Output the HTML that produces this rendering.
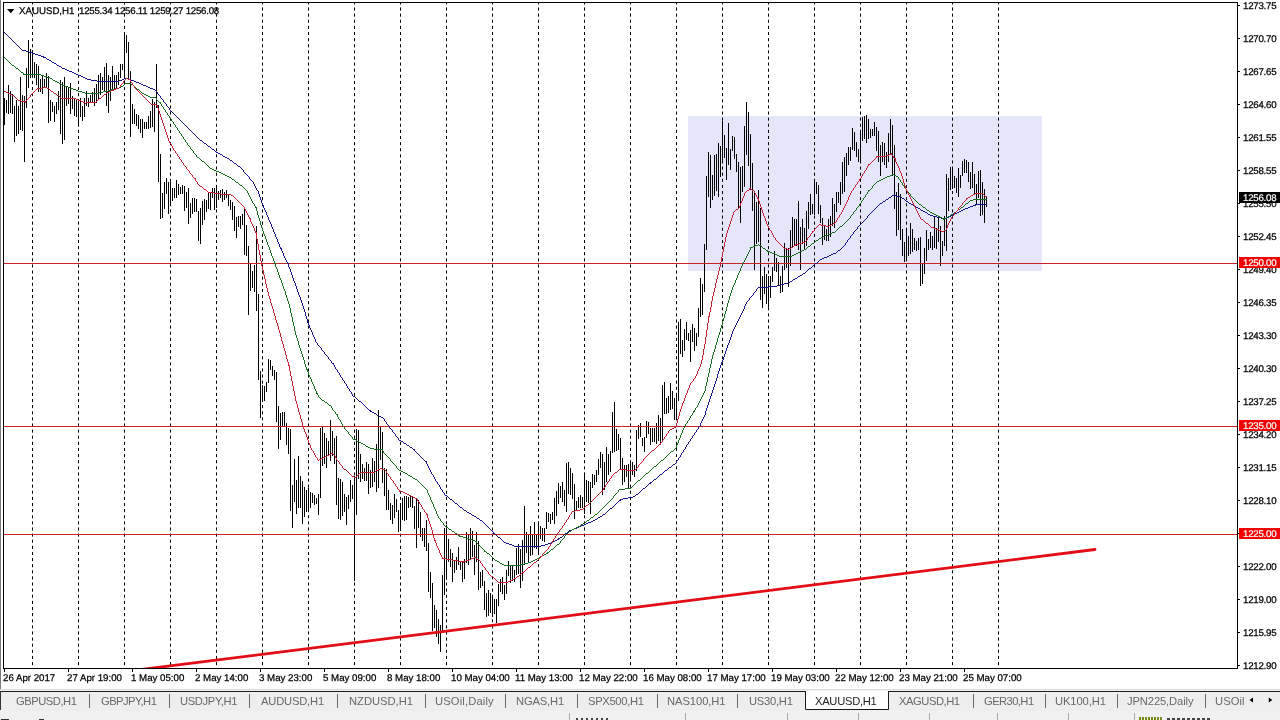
<!DOCTYPE html><html><head><meta charset="utf-8"><title>XAUUSD,H1</title>
<style>
html,body{margin:0;padding:0;}
.ax,.dt,.pl,.ttl{text-rendering:geometricPrecision;}
.ax,.dt,.ttl{-webkit-text-stroke:0.25px #000;}
.pl{-webkit-text-stroke:0.2px #fff;}
.ax,.dt,.pl,.ttl,.tab{will-change:transform;}
body{width:1280px;height:720px;overflow:hidden;background:#fff;position:relative;font-family:"Liberation Sans",sans-serif;color:#000;}
.ax{position:absolute;left:1243px;font-size:9.7px;letter-spacing:-0.24px;line-height:11px;height:11px;white-space:nowrap;}
.dt{position:absolute;top:673px;font-size:9.7px;line-height:11px;white-space:nowrap;}
.pl{position:absolute;left:1239px;width:41px;height:11px;font-size:9.7px;letter-spacing:-0.24px;line-height:11px;color:#fff;white-space:nowrap;}
.pl span{position:absolute;left:4px;top:1px;}
.ttl{position:absolute;top:6px;font-size:9.7px;line-height:11px;white-space:nowrap;}
.tab{position:absolute;top:693.6px;font-size:11.2px;line-height:15px;color:#686868;white-space:nowrap;letter-spacing:-0.4px;}
.sep{position:absolute;top:694px;width:1px;height:14px;background:#6a6a6a;}
</style></head><body>
<svg width="1280" height="720" viewBox="0 0 1280 720" style="position:absolute;left:0;top:0"><clipPath id="cc"><rect x="4" y="3" width="1233" height="665"/></clipPath><rect x="688" y="116" width="354" height="155" fill="#e6e6fa" shape-rendering="crispEdges"/><path d="M32.5 1.38V666M78.5 1.38V666M124.5 1.38V666M170.5 1.38V666M216.5 1.38V666M262.5 1.38V666M308.5 1.38V666M354.5 1.38V666M400.5 1.38V666M446.5 1.38V666M492.5 1.38V666M538.5 1.38V666M584.5 1.38V666M630.5 1.38V666M676.5 1.38V666M722.5 1.38V666M768.5 1.38V666M814.5 1.38V666M860.5 1.38V666M906.5 1.38V666M952.5 1.38V666M998.5 1.38V666" stroke="#000" stroke-width="1" stroke-dasharray="3.1 3.017" fill="none" clip-path="url(#cc)"/><path d="M4.5 98V125M6.5 100V113M8.5 85V114M10.5 91V113M12.5 94V114M14.5 106V142M16.5 100V136M18.5 106V134M20.5 77V130M22.5 95V131M24.5 96V162M26.5 68V108M28.5 40V88M30.5 49V78M32.5 50V75M34.5 62V78M36.5 64V85M38.5 66V92M40.5 79V92M42.5 75V94M44.5 79V88M46.5 73V88M48.5 76V123M50.5 100V121M52.5 102V112M54.5 106V122M56.5 102V114M58.5 91V110M60.5 80V134M62.5 82V144M64.5 77V140M66.5 86V106M68.5 88V104M70.5 83V114M72.5 96V109M74.5 98V116M76.5 100V117M78.5 102V124M80.5 98V117M82.5 106V121M84.5 98V117M86.5 91V106M88.5 98V107M90.5 95V102M92.5 92V102M94.5 88V106M96.5 84V103M98.5 75V99M100.5 73V95M102.5 77V90M104.5 67V92M106.5 63V106M108.5 75V113M110.5 77V101M112.5 66V90M114.5 75V90M116.5 75V88M118.5 72V85M120.5 64V78M122.5 64V70M124.5 32V79M126.5 35V53M128.5 42V80M130.5 71V137M132.5 104V124M134.5 109V124M136.5 114V126M138.5 115V129M140.5 119V133M142.5 119V138M144.5 122V129M146.5 122V129M148.5 116V129M150.5 111V128M152.5 99V127M154.5 102V132M156.5 64V108M158.5 105V182M160.5 154V219M162.5 193V218M164.5 182V209M166.5 178V194M168.5 182V214M170.5 182V205M172.5 188V201M174.5 188V198M176.5 180V198M178.5 184V195M180.5 187V194M182.5 185V194M184.5 186V211M186.5 192V208M188.5 188V224M190.5 203V218M192.5 198V214M194.5 198V212M196.5 199V212M198.5 211V241M200.5 208V244M202.5 201V225M204.5 199V220M206.5 200V212M208.5 192V209M210.5 193V210M212.5 188V198M214.5 188V210M216.5 188V208M218.5 191V200M220.5 190V198M222.5 189V202M224.5 192V200M226.5 190V198M228.5 195V206M230.5 200V210M232.5 202V220M234.5 206V231M236.5 217V238M238.5 216V227M240.5 216V229M242.5 214V225M244.5 207V255M246.5 225V256M248.5 246V315M250.5 264V291M252.5 271V288M254.5 265V292M256.5 226V311M258.5 294V380M260.5 371V418M262.5 385V401M264.5 386V401M266.5 382V392M268.5 359V383M270.5 360V370M272.5 366V376M274.5 370V380M276.5 372V422M278.5 406V449M280.5 413V440M282.5 412V426M284.5 412V426M286.5 423V445M288.5 428V454M290.5 429V511M292.5 485V528M294.5 459V502M296.5 480V514M298.5 456V508M300.5 476V508M302.5 481V524M304.5 487V517M306.5 490V512M308.5 488V511M310.5 492V508M312.5 493V503M314.5 495V505M316.5 498V504M318.5 494V515M320.5 428V498M322.5 426V466M324.5 433V464M326.5 438V468M328.5 441V456M330.5 420V461M332.5 431V456M334.5 438V464M336.5 436V505M338.5 478V519M340.5 479V520M342.5 482V516M344.5 494V512M346.5 497V525M348.5 495V509M350.5 480V502M352.5 485V499M354.5 476V581M356.5 429V515M358.5 430V479M360.5 454V482M362.5 464V479M364.5 468V481M366.5 462V481M368.5 464V494M370.5 470V488M372.5 458V487M374.5 461V482M376.5 444V492M378.5 410V488M380.5 426V460M382.5 432V483M384.5 468V496M386.5 469V510M388.5 490V510M390.5 503V520M392.5 505V524M394.5 494V518M396.5 499V512M398.5 510V532M400.5 506V531M402.5 498V520M404.5 496V521M406.5 496V520M408.5 497V508M410.5 496V507M412.5 497V508M414.5 506V529M416.5 498V548M418.5 500V528M420.5 512V537M422.5 528V541M424.5 528V547M426.5 520V551M428.5 543V592M430.5 572V598M432.5 583V631M434.5 605V628M436.5 610V637M438.5 619V644M440.5 625V652M442.5 575V632M444.5 528V595M446.5 525V580M448.5 539V562M450.5 549V567M452.5 553V582M454.5 560V573M456.5 557V570M458.5 547V565M460.5 561V570M462.5 562V582M464.5 559V579M466.5 532V563M468.5 535V565M470.5 528V559M472.5 531V557M474.5 545V575M476.5 532V562M478.5 541V590M480.5 572V588M482.5 570V586M484.5 581V610M486.5 593V617M488.5 590V616M490.5 593V613M492.5 596V617M494.5 599V614M496.5 599V623M498.5 584V606M500.5 579V592M502.5 577V594M504.5 585V600M506.5 570V594M508.5 561V576M510.5 566V583M512.5 566V581M514.5 570V582M516.5 548V575M518.5 544V574M520.5 549V588M522.5 540V581M524.5 506V565M526.5 532V553M528.5 534V562M530.5 526V556M532.5 534V555M534.5 522V548M536.5 535V549M538.5 524V555M540.5 526V539M542.5 528V541M544.5 528V542M546.5 512V529M548.5 513V522M550.5 514V524M552.5 512V520M554.5 498V524M556.5 491V516M558.5 483V504M560.5 486V498M562.5 482V502M564.5 490V506M566.5 463V512M568.5 462V494M570.5 468V495M572.5 473V499M574.5 484V519M576.5 501V510M578.5 497V508M580.5 495V508M582.5 497V508M584.5 475V514M586.5 480V502M588.5 481V503M590.5 482V514M592.5 474V488M594.5 475V485M596.5 470V482M598.5 459V475M600.5 452V468M602.5 454V495M604.5 462V490M606.5 447V482M608.5 454V475M610.5 451V472M612.5 412V453M614.5 402V452M616.5 429V451M618.5 434V450M620.5 438V469M622.5 458V485M624.5 465V482M626.5 465V477M628.5 464V489M630.5 462V479M632.5 462V475M634.5 465V477M636.5 430V471M638.5 425V439M640.5 423V437M642.5 438V446M644.5 437V452M646.5 421V438M648.5 422V434M650.5 428V445M652.5 428V442M654.5 428V442M656.5 423V444M658.5 415V441M660.5 418V444M662.5 385V440M664.5 382V414M666.5 398V414M668.5 396V413M670.5 383V410M672.5 391V409M674.5 398V420M676.5 393V419M678.5 322V401M680.5 319V354M682.5 340V357M684.5 329V351M686.5 322V340M688.5 333V341M690.5 330V362M692.5 324V342M694.5 328V351M696.5 333V346M698.5 308V337M700.5 278V317M702.5 284V315M704.5 244V292M706.5 176V250M708.5 152V197M710.5 155V208M712.5 175V200M714.5 155V196M716.5 154V191M718.5 143V197M720.5 146V177M722.5 121V161M724.5 135V158M726.5 148V180M728.5 123V165M730.5 149V170M732.5 136V151M734.5 137V159M736.5 154V172M738.5 162V208M740.5 167V223M742.5 166V192M744.5 126V187M746.5 102V155M748.5 112V166M750.5 134V190M752.5 163V211M754.5 191V270M756.5 202V244M758.5 190V242M760.5 208V300M762.5 276V308M764.5 267V294M766.5 274V304M768.5 276V307M770.5 276V298M772.5 267V282M774.5 251V271M776.5 258V272M778.5 262V286M780.5 276V293M782.5 266V292M784.5 243V270M786.5 248V268M788.5 248V287M790.5 230V266M792.5 217V248M794.5 219V246M796.5 219V246M798.5 201V250M800.5 227V270M802.5 219V244M804.5 228V250M806.5 211V246M808.5 202V229M810.5 194V215M812.5 204V214M814.5 181V215M816.5 182V194M818.5 185V214M820.5 205V223M822.5 218V245M824.5 226V240M826.5 229V241M828.5 219V241M830.5 216V237M832.5 198V226M834.5 204V228M836.5 192V212M838.5 192V203M840.5 182V205M842.5 162V194M844.5 157V192M846.5 153V176M848.5 147V165M850.5 147V161M852.5 128V150M854.5 132V151M856.5 142V157M858.5 149V162M860.5 133V162M862.5 117V141M864.5 116V139M866.5 115V143M868.5 119V139M870.5 129V138M872.5 129V136M874.5 122V136M876.5 127V151M878.5 131V162M880.5 145V176M882.5 142V162M884.5 143V165M886.5 152V168M888.5 133V162M890.5 119V155M892.5 125V176M894.5 145V209M896.5 192V236M898.5 183V230M900.5 194V240M902.5 229V256M904.5 242V262M906.5 230V259M908.5 236V256M910.5 223V254M912.5 229V252M914.5 238V250M916.5 241V251M918.5 238V250M920.5 237V286M922.5 264V284M924.5 248V274M926.5 230V261M928.5 239V250M930.5 232V248M932.5 236V250M934.5 217V248M936.5 228V249M938.5 218V242M940.5 226V266M942.5 241V256M944.5 216V246M946.5 174V251M948.5 178V211M950.5 167V190M952.5 169V189M954.5 176V188M956.5 178V193M958.5 168V197M960.5 175V188M962.5 161V176M964.5 159V173M966.5 160V173M968.5 162V182M970.5 172V189M972.5 162V188M974.5 174V194M976.5 184V204M978.5 171V198M980.5 170V216M982.5 182V215M984.5 189V223M986.5 197V207" stroke="#000" stroke-width="1" fill="none" shape-rendering="crispEdges"/><rect x="4" y="263" width="1233" height="1" fill="#c62424" shape-rendering="crispEdges"/><rect x="4" y="426" width="1233" height="1" fill="#c62424" shape-rendering="crispEdges"/><rect x="4" y="534" width="1233" height="1" fill="#c62424" shape-rendering="crispEdges"/><path d="M4.5 32V33M5.5 33V34M6.5 34V35M7.5 35V36M8.5 36V37M9.5 37V38M10.5 38V39M11.5 39V40M12.5 40V41M13.5 41V42M14.5 42V43M15.5 43V44M16.5 44V45M17.5 45V46M18.5 46V47M19.5 47V48M20.5 48V49M21.5 49V50M22.5 50V51M23.5 50V51M24.5 50V51M25.5 50V51M26.5 51V52M27.5 51V52M28.5 51V52M29.5 52V53M30.5 52V53M31.5 52V53M32.5 53V54M33.5 53V54M34.5 53V54M35.5 54V55M36.5 54V55M37.5 54V55M38.5 55V56M39.5 55V56M40.5 55V56M41.5 56V57M42.5 56V57M43.5 56V58M44.5 57V58M45.5 57V58M46.5 58V59M47.5 59V60M48.5 59V60M49.5 60V61M50.5 60V61M51.5 61V62M52.5 62V63M53.5 62V63M54.5 63V64M55.5 63V64M56.5 64V65M57.5 65V66M58.5 65V66M59.5 66V67M60.5 66V67M61.5 67V68M62.5 68V69M63.5 68V69M64.5 68V69M65.5 69V70M66.5 69V70M67.5 70V71M68.5 70V71M69.5 71V72M70.5 71V72M71.5 71V72M72.5 72V73M73.5 72V73M74.5 73V74M75.5 73V74M76.5 74V75M77.5 74V75M78.5 75V76M79.5 75V76M80.5 75V76M81.5 76V77M82.5 76V77M83.5 77V78M84.5 77V78M85.5 78V79M86.5 78V79M87.5 79V80M88.5 79V80M89.5 79V80M90.5 79V80M91.5 80V81M92.5 80V81M93.5 80V81M94.5 80V81M95.5 80V81M96.5 80V81M97.5 81V82M98.5 81V82M99.5 81V82M100.5 81V82M101.5 81V82M102.5 81V82M103.5 81V82M104.5 81V82M105.5 81V82M106.5 81V82M107.5 81V82M108.5 81V82M109.5 81V82M110.5 81V82M111.5 81V82M112.5 81V82M113.5 81V82M114.5 81V82M115.5 81V82M116.5 81V82M117.5 81V82M118.5 81V82M119.5 80V81M120.5 80V81M121.5 80V81M122.5 79V80M123.5 79V80M124.5 78V79M125.5 78V79M126.5 78V79M127.5 78V79M128.5 78V79M129.5 79V80M130.5 79V80M131.5 80V81M132.5 80V81M133.5 80V81M134.5 81V82M135.5 81V82M136.5 82V83M137.5 82V83M138.5 82V83M139.5 83V84M140.5 83V84M141.5 84V85M142.5 84V85M143.5 85V86M144.5 85V86M145.5 85V86M146.5 86V87M147.5 86V87M148.5 87V88M149.5 87V88M150.5 88V89M151.5 88V89M152.5 88V89M153.5 89V90M154.5 89V90M155.5 90V91M156.5 90V92M157.5 92V94M158.5 94V95M159.5 95V96M160.5 96V98M161.5 98V99M162.5 99V100M163.5 100V102M164.5 102V103M165.5 103V104M166.5 104V106M167.5 106V107M168.5 107V108M169.5 108V110M170.5 110V111M171.5 111V112M172.5 112V113M173.5 113V114M174.5 114V115M175.5 115V116M176.5 116V117M177.5 117V118M178.5 118V119M179.5 119V120M180.5 120V121M181.5 121V122M182.5 122V123M183.5 123V124M184.5 124V125M185.5 125V126M186.5 126V127M187.5 127V128M188.5 128V129M189.5 129V130M190.5 130V131M191.5 131V132M192.5 132V133M193.5 133V134M194.5 134V135M195.5 135V136M196.5 136V137M197.5 137V138M198.5 138V139M199.5 139V140M200.5 140V141M201.5 140V141M202.5 141V142M203.5 142V143M204.5 143V144M205.5 143V144M206.5 144V145M207.5 145V146M208.5 146V147M209.5 146V147M210.5 147V148M211.5 148V149M212.5 149V150M213.5 149V150M214.5 150V151M215.5 151V152M216.5 152V153M217.5 152V153M218.5 153V154M219.5 153V154M220.5 154V155M221.5 154V155M222.5 155V156M223.5 156V157M224.5 156V157M225.5 157V158M226.5 157V158M227.5 158V159M228.5 158V159M229.5 159V160M230.5 160V161M231.5 160V161M232.5 161V162M233.5 162V163M234.5 163V164M235.5 163V164M236.5 164V165M237.5 165V166M238.5 166V167M239.5 166V167M240.5 167V168M241.5 168V169M242.5 169V170M243.5 170V172M244.5 172V173M245.5 173V174M246.5 174V175M247.5 175V176M248.5 176V177M249.5 177V179M250.5 179V180M251.5 180V181M252.5 181V182M253.5 182V184M254.5 184V186M255.5 186V188M256.5 188V190M257.5 190V191M258.5 191V194M259.5 194V197M260.5 197V200M261.5 200V203M262.5 203V205M263.5 205V208M264.5 208V210M265.5 210V212M266.5 212V215M267.5 215V217M268.5 217V220M269.5 220V222M270.5 222V224M271.5 224V227M272.5 227V229M273.5 229V232M274.5 232V234M275.5 234V237M276.5 237V239M277.5 239V242M278.5 242V244M279.5 244V247M280.5 247V249M281.5 248V251M282.5 251V253M283.5 253V256M284.5 256V258M285.5 258V260M286.5 260V262M287.5 262V264M288.5 263V267M289.5 267V269M290.5 269V272M291.5 272V275M292.5 275V278M293.5 278V281M294.5 281V283M295.5 283V286M296.5 286V289M297.5 289V292M298.5 292V295M299.5 295V297M300.5 297V300M301.5 300V303M302.5 303V306M303.5 306V309M304.5 309V312M305.5 312V316M306.5 316V319M307.5 319V323M308.5 322V325M309.5 325V328M310.5 328V330M311.5 330V332M312.5 332V335M313.5 335V337M314.5 337V339M315.5 339V342M316.5 342V343M317.5 343V345M318.5 345V346M319.5 346V347M320.5 347V348M321.5 348V350M322.5 350V351M323.5 351V352M324.5 352V354M325.5 354V355M326.5 355V356M327.5 356V357M328.5 357V359M329.5 359V360M330.5 360V361M331.5 361V363M332.5 363V364M333.5 363V365M334.5 365V367M335.5 367V369M336.5 369V370M337.5 370V372M338.5 372V373M339.5 373V375M340.5 375V377M341.5 377V378M342.5 378V380M343.5 380V381M344.5 381V383M345.5 383V384M346.5 384V386M347.5 386V388M348.5 388V389M349.5 389V391M350.5 391V392M351.5 392V394M352.5 394V396M353.5 396V397M354.5 396V397M355.5 397V398M356.5 398V399M357.5 399V400M358.5 400V401M359.5 401V402M360.5 401V402M361.5 402V403M362.5 403V404M363.5 404V405M364.5 405V406M365.5 406V407M366.5 407V408M367.5 408V409M368.5 409V410M369.5 410V411M370.5 410V412M371.5 411V412M372.5 412V413M373.5 412V413M374.5 413V414M375.5 413V414M376.5 414V415M377.5 415V416M378.5 415V416M379.5 416V417M380.5 416V417M381.5 417V418M382.5 417V418M383.5 418V419M384.5 419V421M385.5 421V422M386.5 422V424M387.5 424V425M388.5 425V426M389.5 426V428M390.5 428V429M391.5 429V430M392.5 430V432M393.5 432V433M394.5 433V434M395.5 434V436M396.5 436V437M397.5 437V438M398.5 438V440M399.5 440V441M400.5 440V441M401.5 441V442M402.5 441V442M403.5 442V443M404.5 443V444M405.5 443V444M406.5 444V445M407.5 445V446M408.5 445V446M409.5 446V447M410.5 447V448M411.5 447V448M412.5 448V449M413.5 449V450M414.5 449V451M415.5 451V452M416.5 452V453M417.5 453V454M418.5 454V455M419.5 455V456M420.5 456V457M421.5 457V458M422.5 458V459M423.5 459V460M424.5 460V461M425.5 461V462M426.5 461V464M427.5 464V466M428.5 466V468M429.5 468V470M430.5 470V472M431.5 472V474M432.5 474V475M433.5 475V477M434.5 477V479M435.5 479V481M436.5 481V482M437.5 482V484M438.5 484V485M439.5 485V487M440.5 487V489M441.5 489V490M442.5 490V492M443.5 492V493M444.5 493V495M445.5 495V496M446.5 495V496M447.5 496V497M448.5 497V498M449.5 498V499M450.5 499V500M451.5 499V500M452.5 500V501M453.5 501V502M454.5 502V503M455.5 503V504M456.5 503V504M457.5 504V505M458.5 505V506M459.5 506V507M460.5 507V508M461.5 507V508M462.5 508V509M463.5 509V510M464.5 510V511M465.5 510V511M466.5 511V512M467.5 512V513M468.5 512V513M469.5 513V514M470.5 513V514M471.5 514V515M472.5 515V516M473.5 515V516M474.5 516V517M475.5 516V517M476.5 517V518M477.5 518V519M478.5 518V519M479.5 519V520M480.5 520V521M481.5 520V521M482.5 521V522M483.5 522V523M484.5 523V524M485.5 524V525M486.5 525V526M487.5 526V527M488.5 527V528M489.5 528V529M490.5 529V530M491.5 530V531M492.5 531V532M493.5 532V534M494.5 533V534M495.5 534V535M496.5 535V536M497.5 536V537M498.5 537V538M499.5 537V538M500.5 538V539M501.5 539V540M502.5 540V541M503.5 541V542M504.5 542V543M505.5 542V543M506.5 543V544M507.5 543V544M508.5 543V544M509.5 544V545M510.5 544V545M511.5 544V545M512.5 545V546M513.5 545V546M514.5 546V547M515.5 546V547M516.5 546V547M517.5 546V547M518.5 546V547M519.5 546V547M520.5 546V547M521.5 546V547M522.5 546V547M523.5 546V547M524.5 546V547M525.5 546V547M526.5 546V547M527.5 546V547M528.5 546V547M529.5 546V547M530.5 546V547M531.5 546V547M532.5 546V547M533.5 546V547M534.5 546V547M535.5 546V547M536.5 546V547M537.5 546V547M538.5 546V547M539.5 546V547M540.5 546V547M541.5 545V546M542.5 545V546M543.5 545V546M544.5 545V546M545.5 544V545M546.5 544V545M547.5 544V545M548.5 543V544M549.5 543V544M550.5 543V544M551.5 542V543M552.5 542V543M553.5 541V542M554.5 541V542M555.5 540V541M556.5 540V541M557.5 539V540M558.5 538V540M559.5 538V539M560.5 537V538M561.5 537V538M562.5 536V537M563.5 535V536M564.5 534V535M565.5 533V534M566.5 533V534M567.5 532V533M568.5 531V532M569.5 530V531M570.5 530V531M571.5 530V531M572.5 529V530M573.5 529V530M574.5 528V529M575.5 528V529M576.5 528V529M577.5 527V528M578.5 527V528M579.5 526V527M580.5 526V527M581.5 525V526M582.5 525V526M583.5 525V526M584.5 524V525M585.5 524V525M586.5 523V524M587.5 523V524M588.5 522V523M589.5 522V523M590.5 522V523M591.5 521V522M592.5 521V522M593.5 520V521M594.5 520V521M595.5 519V520M596.5 519V520M597.5 518V519M598.5 517V518M599.5 517V518M600.5 516V517M601.5 516V517M602.5 515V516M603.5 514V515M604.5 514V515M605.5 513V514M606.5 512V513M607.5 511V512M608.5 510V511M609.5 509V510M610.5 508V509M611.5 508V509M612.5 507V508M613.5 506V507M614.5 505V506M615.5 504V505M616.5 503V504M617.5 502V503M618.5 501V502M619.5 500V501M620.5 499V501M621.5 499V500M622.5 499V500M623.5 498V499M624.5 498V499M625.5 498V499M626.5 498V499M627.5 498V499M628.5 497V498M629.5 497V498M630.5 497V498M631.5 497V498M632.5 497V498M633.5 496V497M634.5 496V497M635.5 495V496M636.5 494V495M637.5 494V495M638.5 493V494M639.5 492V493M640.5 491V492M641.5 490V491M642.5 489V490M643.5 488V489M644.5 488V489M645.5 487V488M646.5 486V487M647.5 485V486M648.5 484V485M649.5 483V484M650.5 482V484M651.5 482V483M652.5 481V482M653.5 480V481M654.5 479V480M655.5 479V480M656.5 478V479M657.5 477V478M658.5 476V477M659.5 475V476M660.5 474V475M661.5 474V475M662.5 473V474M663.5 472V473M664.5 471V472M665.5 470V471M666.5 470V471M667.5 469V470M668.5 468V469M669.5 467V468M670.5 467V468M671.5 466V467M672.5 465V466M673.5 464V465M674.5 464V465M675.5 463V464M676.5 461V463M677.5 460V461M678.5 458V460M679.5 457V458M680.5 455V457M681.5 453V455M682.5 452V453M683.5 450V452M684.5 449V450M685.5 447V449M686.5 445V447M687.5 444V445M688.5 442V444M689.5 441V442M690.5 439V441M691.5 438V439M692.5 436V438M693.5 435V436M694.5 433V435M695.5 432V433M696.5 430V432M697.5 429V430M698.5 427V429M699.5 426V427M700.5 423V426M701.5 421V423M702.5 419V421M703.5 417V419M704.5 415V417M705.5 411V415M706.5 408V411M707.5 405V408M708.5 402V405M709.5 399V402M710.5 396V399M711.5 393V396M712.5 390V393M713.5 387V390M714.5 384V387M715.5 381V384M716.5 378V381M717.5 374V378M718.5 371V374M719.5 368V371M720.5 365V368M721.5 362V365M722.5 360V362M723.5 357V360M724.5 354V357M725.5 351V354M726.5 348V351M727.5 345V348M728.5 343V345M729.5 340V343M730.5 337V340M731.5 334V337M732.5 331V334M733.5 329V331M734.5 327V329M735.5 325V327M736.5 323V325M737.5 321V323M738.5 319V321M739.5 317V319M740.5 315V317M741.5 313V315M742.5 311V313M743.5 309V311M744.5 306V309M745.5 304V306M746.5 302V304M747.5 301V302M748.5 300V301M749.5 298V300M750.5 297V298M751.5 296V297M752.5 295V296M753.5 293V295M754.5 292V293M755.5 291V292M756.5 289V291M757.5 288V289M758.5 287V288M759.5 287V288M760.5 287V288M761.5 287V288M762.5 287V288M763.5 287V288M764.5 287V288M765.5 287V288M766.5 287V288M767.5 287V288M768.5 287V288M769.5 286V287M770.5 286V287M771.5 286V287M772.5 286V287M773.5 286V287M774.5 286V287M775.5 286V287M776.5 286V287M777.5 285V286M778.5 285V286M779.5 285V286M780.5 285V286M781.5 284V285M782.5 284V285M783.5 284V285M784.5 283V284M785.5 283V284M786.5 283V284M787.5 283V284M788.5 282V283M789.5 282V283M790.5 281V282M791.5 281V282M792.5 280V281M793.5 279V280M794.5 279V280M795.5 278V279M796.5 278V279M797.5 277V278M798.5 276V277M799.5 276V277M800.5 275V276M801.5 275V276M802.5 274V275M803.5 273V274M804.5 273V274M805.5 272V273M806.5 271V272M807.5 270V271M808.5 269V270M809.5 268V269M810.5 268V269M811.5 267V268M812.5 266V267M813.5 265V266M814.5 264V265M815.5 263V264M816.5 263V264M817.5 262V263M818.5 261V262M819.5 260V261M820.5 259V260M821.5 259V260M822.5 258V259M823.5 258V259M824.5 257V258M825.5 257V258M826.5 257V258M827.5 256V257M828.5 256V257M829.5 255V256M830.5 255V256M831.5 254V255M832.5 254V255M833.5 253V254M834.5 253V254M835.5 253V254M836.5 252V253M837.5 251V252M838.5 250V251M839.5 250V251M840.5 249V250M841.5 248V249M842.5 247V248M843.5 246V247M844.5 245V246M845.5 243V245M846.5 242V243M847.5 240V242M848.5 239V240M849.5 238V239M850.5 236V238M851.5 235V236M852.5 234V235M853.5 232V234M854.5 231V232M855.5 230V231M856.5 229V230M857.5 227V229M858.5 226V227M859.5 225V226M860.5 224V225M861.5 223V224M862.5 222V223M863.5 221V222M864.5 220V221M865.5 219V220M866.5 218V219M867.5 216V218M868.5 215V216M869.5 214V215M870.5 213V214M871.5 212V213M872.5 211V212M873.5 210V211M874.5 209V210M875.5 208V209M876.5 207V208M877.5 206V207M878.5 205V206M879.5 204V205M880.5 203V204M881.5 203V204M882.5 202V203M883.5 201V202M884.5 201V202M885.5 200V201M886.5 199V200M887.5 199V200M888.5 198V199M889.5 197V198M890.5 197V198M891.5 196V197M892.5 195V196M893.5 195V196M894.5 195V196M895.5 195V196M896.5 196V197M897.5 196V197M898.5 196V197M899.5 196V197M900.5 196V197M901.5 197V198M902.5 198V199M903.5 198V199M904.5 199V200M905.5 200V201M906.5 201V202M907.5 201V202M908.5 202V203M909.5 203V204M910.5 203V204M911.5 204V205M912.5 204V205M913.5 205V206M914.5 205V206M915.5 206V208M916.5 207V208M917.5 207V208M918.5 208V209M919.5 208V209M920.5 209V210M921.5 210V211M922.5 210V211M923.5 211V212M924.5 211V212M925.5 212V213M926.5 212V213M927.5 213V214M928.5 214V215M929.5 214V215M930.5 215V216M931.5 215V216M932.5 215V216M933.5 216V217M934.5 216V217M935.5 216V217M936.5 216V217M937.5 217V218M938.5 217V218M939.5 217V218M940.5 217V218M941.5 218V219M942.5 218V219M943.5 218V220M944.5 218V219M945.5 218V219M946.5 218V219M947.5 217V218M948.5 217V218M949.5 216V217M950.5 216V217M951.5 215V216M952.5 215V216M953.5 214V215M954.5 214V215M955.5 213V214M956.5 213V214M957.5 212V213M958.5 212V213M959.5 211V212M960.5 211V212M961.5 210V211M962.5 210V211M963.5 209V210M964.5 209V210M965.5 208V209M966.5 208V209M967.5 208V209M968.5 207V208M969.5 207V208M970.5 206V207M971.5 206V207M972.5 206V207M973.5 205V206M974.5 205V206M975.5 204V206M976.5 204V205M977.5 204V205M978.5 204V205M979.5 204V205M980.5 204V205M981.5 204V205M982.5 204V205M983.5 204V205M984.5 204V205M985.5 204V205M986.5 204V205" fill="none" stroke="#16168a" stroke-width="1" shape-rendering="crispEdges"/><path d="M4.5 57V58M5.5 58V59M6.5 59V60M7.5 60V61M8.5 61V62M9.5 62V63M10.5 63V64M11.5 64V65M12.5 65V66M13.5 65V66M14.5 66V67M15.5 67V68M16.5 68V69M17.5 68V69M18.5 69V70M19.5 70V71M20.5 71V72M21.5 72V73M22.5 72V73M23.5 73V75M24.5 74V75M25.5 74V75M26.5 74V75M27.5 74V75M28.5 74V75M29.5 74V75M30.5 74V75M31.5 74V75M32.5 74V75M33.5 74V75M34.5 74V75M35.5 74V75M36.5 74V75M37.5 74V75M38.5 74V75M39.5 74V75M40.5 74V75M41.5 75V76M42.5 75V76M43.5 75V76M44.5 76V77M45.5 76V77M46.5 76V77M47.5 77V78M48.5 77V78M49.5 77V78M50.5 78V79M51.5 78V79M52.5 79V80M53.5 80V81M54.5 80V81M55.5 81V82M56.5 81V82M57.5 82V83M58.5 82V83M59.5 83V84M60.5 83V84M61.5 84V85M62.5 85V86M63.5 85V86M64.5 85V86M65.5 86V87M66.5 86V87M67.5 86V87M68.5 87V88M69.5 87V88M70.5 88V89M71.5 88V89M72.5 88V89M73.5 89V90M74.5 89V90M75.5 89V90M76.5 90V91M77.5 90V91M78.5 91V92M79.5 91V92M80.5 91V92M81.5 91V92M82.5 92V93M83.5 92V93M84.5 92V93M85.5 93V94M86.5 93V94M87.5 93V94M88.5 93V94M89.5 93V94M90.5 93V94M91.5 93V94M92.5 93V94M93.5 93V94M94.5 93V94M95.5 93V94M96.5 93V94M97.5 93V94M98.5 93V94M99.5 92V93M100.5 92V93M101.5 92V93M102.5 92V93M103.5 91V92M104.5 91V92M105.5 91V92M106.5 91V92M107.5 91V92M108.5 90V91M109.5 90V91M110.5 90V91M111.5 89V90M112.5 89V90M113.5 89V90M114.5 89V90M115.5 88V89M116.5 88V89M117.5 88V89M118.5 88V89M119.5 87V88M120.5 87V88M121.5 86V87M122.5 86V87M123.5 85V86M124.5 84V85M125.5 83V84M126.5 83V84M127.5 83V84M128.5 83V84M129.5 83V84M130.5 83V84M131.5 84V85M132.5 84V85M133.5 85V86M134.5 86V87M135.5 87V88M136.5 88V89M137.5 89V90M138.5 89V90M139.5 90V91M140.5 91V92M141.5 92V93M142.5 93V94M143.5 93V94M144.5 94V95M145.5 94V95M146.5 95V96M147.5 95V96M148.5 96V97M149.5 96V97M150.5 97V98M151.5 97V98M152.5 97V98M153.5 97V98M154.5 97V98M155.5 97V98M156.5 98V100M157.5 100V101M158.5 101V102M159.5 102V103M160.5 102V104M161.5 104V106M162.5 106V107M163.5 107V109M164.5 109V110M165.5 110V112M166.5 112V113M167.5 113V115M168.5 115V116M169.5 116V118M170.5 118V119M171.5 119V121M172.5 121V122M173.5 122V124M174.5 124V125M175.5 125V127M176.5 127V128M177.5 128V130M178.5 130V131M179.5 131V133M180.5 133V134M181.5 134V136M182.5 136V137M183.5 137V139M184.5 139V140M185.5 140V142M186.5 142V143M187.5 143V145M188.5 145V146M189.5 146V147M190.5 147V149M191.5 149V150M192.5 150V151M193.5 151V153M194.5 153V154M195.5 154V155M196.5 155V157M197.5 157V158M198.5 157V158M199.5 158V159M200.5 159V160M201.5 160V161M202.5 161V162M203.5 161V162M204.5 162V163M205.5 163V164M206.5 164V165M207.5 165V166M208.5 166V167M209.5 167V168M210.5 168V169M211.5 168V169M212.5 169V170M213.5 169V170M214.5 170V171M215.5 170V171M216.5 171V172M217.5 171V172M218.5 171V172M219.5 172V173M220.5 172V173M221.5 173V174M222.5 173V174M223.5 174V175M224.5 174V175M225.5 175V176M226.5 175V176M227.5 176V177M228.5 176V177M229.5 177V178M230.5 177V178M231.5 178V179M232.5 179V180M233.5 179V180M234.5 180V181M235.5 181V182M236.5 182V183M237.5 182V183M238.5 183V184M239.5 184V185M240.5 185V186M241.5 185V186M242.5 186V187M243.5 187V188M244.5 188V189M245.5 189V190M246.5 190V191M247.5 191V193M248.5 193V195M249.5 195V197M250.5 197V199M251.5 199V201M252.5 201V203M253.5 203V204M254.5 204V206M255.5 206V208M256.5 207V211M257.5 211V215M258.5 215V218M259.5 218V221M260.5 221V225M261.5 225V228M262.5 228V231M263.5 231V234M264.5 234V236M265.5 236V239M266.5 239V242M267.5 242V245M268.5 245V247M269.5 247V250M270.5 250V253M271.5 253V256M272.5 256V258M273.5 258V261M274.5 261V264M275.5 263V267M276.5 267V269M277.5 269V272M278.5 272V275M279.5 275V278M280.5 278V280M281.5 280V283M282.5 283V286M283.5 286V289M284.5 289V291M285.5 291V295M286.5 295V298M287.5 298V301M288.5 301V304M289.5 304V308M290.5 308V313M291.5 313V317M292.5 317V322M293.5 322V326M294.5 326V331M295.5 331V335M296.5 335V338M297.5 338V341M298.5 341V345M299.5 345V348M300.5 348V351M301.5 351V354M302.5 354V357M303.5 357V360M304.5 360V364M305.5 364V367M306.5 367V370M307.5 369V372M308.5 372V375M309.5 375V377M310.5 377V379M311.5 379V382M312.5 382V384M313.5 384V386M314.5 386V389M315.5 389V391M316.5 391V394M317.5 393V395M318.5 395V397M319.5 397V398M320.5 398V399M321.5 399V400M322.5 400V401M323.5 400V401M324.5 401V402M325.5 402V403M326.5 402V403M327.5 403V404M328.5 404V405M329.5 405V406M330.5 405V406M331.5 406V408M332.5 408V410M333.5 410V411M334.5 411V412M335.5 412V414M336.5 414V415M337.5 414V417M338.5 417V419M339.5 419V420M340.5 420V422M341.5 422V424M342.5 424V426M343.5 426V427M344.5 427V429M345.5 429V430M346.5 430V431M347.5 431V432M348.5 432V434M349.5 434V435M350.5 435V436M351.5 436V437M352.5 437V439M353.5 439V440M354.5 439V440M355.5 439V440M356.5 440V441M357.5 441V442M358.5 441V442M359.5 442V443M360.5 442V443M361.5 443V444M362.5 443V444M363.5 444V445M364.5 444V445M365.5 445V446M366.5 446V447M367.5 446V447M368.5 447V448M369.5 447V448M370.5 448V449M371.5 448V449M372.5 448V449M373.5 448V449M374.5 449V450M375.5 449V450M376.5 449V450M377.5 449V450M378.5 449V450M379.5 449V450M380.5 449V450M381.5 449V450M382.5 449V451M383.5 451V453M384.5 453V454M385.5 454V455M386.5 455V456M387.5 456V457M388.5 457V458M389.5 458V459M390.5 459V461M391.5 461V462M392.5 462V463M393.5 463V464M394.5 464V465M395.5 465V466M396.5 466V468M397.5 468V469M398.5 469V470M399.5 470V471M400.5 470V471M401.5 471V472M402.5 471V472M403.5 472V473M404.5 472V473M405.5 473V474M406.5 473V474M407.5 474V475M408.5 475V476M409.5 475V476M410.5 476V477M411.5 476V477M412.5 477V478M413.5 478V479M414.5 478V479M415.5 479V480M416.5 479V480M417.5 480V481M418.5 481V482M419.5 482V483M420.5 483V484M421.5 484V485M422.5 485V486M423.5 486V487M424.5 487V488M425.5 488V489M426.5 489V490M427.5 490V493M428.5 493V495M429.5 495V497M430.5 497V500M431.5 500V502M432.5 502V504M433.5 504V507M434.5 507V509M435.5 509V511M436.5 511V514M437.5 514V516M438.5 516V518M439.5 518V519M440.5 519V521M441.5 521V522M442.5 522V523M443.5 523V525M444.5 525V526M445.5 526V527M446.5 527V528M447.5 527V528M448.5 528V529M449.5 529V530M450.5 529V530M451.5 530V531M452.5 531V532M453.5 531V532M454.5 532V533M455.5 533V534M456.5 533V534M457.5 534V535M458.5 535V536M459.5 535V537M460.5 536V537M461.5 536V537M462.5 536V537M463.5 537V538M464.5 537V538M465.5 537V538M466.5 538V539M467.5 538V539M468.5 538V539M469.5 539V540M470.5 539V540M471.5 539V540M472.5 540V541M473.5 540V541M474.5 540V541M475.5 541V542M476.5 541V543M477.5 543V544M478.5 544V545M479.5 545V546M480.5 546V547M481.5 547V548M482.5 548V549M483.5 549V550M484.5 550V552M485.5 551V552M486.5 552V553M487.5 553V554M488.5 553V554M489.5 554V555M490.5 555V556M491.5 556V557M492.5 557V558M493.5 558V559M494.5 559V560M495.5 560V561M496.5 560V561M497.5 561V562M498.5 561V562M499.5 562V563M500.5 563V564M501.5 563V564M502.5 564V565M503.5 564V565M504.5 565V566M505.5 565V566M506.5 565V566M507.5 565V566M508.5 565V566M509.5 565V566M510.5 565V566M511.5 565V566M512.5 565V566M513.5 565V566M514.5 565V566M515.5 565V566M516.5 565V566M517.5 565V566M518.5 565V566M519.5 565V566M520.5 564V565M521.5 564V565M522.5 564V565M523.5 564V565M524.5 563V564M525.5 563V564M526.5 563V564M527.5 563V564M528.5 562V563M529.5 562V563M530.5 562V563M531.5 561V562M532.5 561V562M533.5 560V561M534.5 560V561M535.5 559V560M536.5 559V560M537.5 558V559M538.5 558V559M539.5 557V558M540.5 556V557M541.5 556V557M542.5 555V556M543.5 555V556M544.5 554V555M545.5 554V555M546.5 553V554M547.5 552V554M548.5 552V553M549.5 551V552M550.5 550V551M551.5 549V550M552.5 549V550M553.5 548V549M554.5 547V548M555.5 546V547M556.5 545V546M557.5 544V545M558.5 544V545M559.5 543V544M560.5 541V543M561.5 540V541M562.5 539V540M563.5 538V539M564.5 536V538M565.5 535V536M566.5 534V535M567.5 533V534M568.5 532V533M569.5 531V532M570.5 531V532M571.5 530V531M572.5 529V530M573.5 529V530M574.5 528V529M575.5 528V529M576.5 527V528M577.5 527V528M578.5 526V527M579.5 526V527M580.5 525V526M581.5 524V525M582.5 524V525M583.5 523V524M584.5 523V524M585.5 522V523M586.5 521V522M587.5 520V521M588.5 520V521M589.5 519V520M590.5 518V519M591.5 517V518M592.5 517V518M593.5 516V517M594.5 515V516M595.5 514V515M596.5 514V515M597.5 513V514M598.5 512V513M599.5 511V512M600.5 510V511M601.5 509V510M602.5 508V509M603.5 507V508M604.5 506V507M605.5 505V506M606.5 504V505M607.5 503V504M608.5 502V503M609.5 501V502M610.5 500V501M611.5 499V500M612.5 498V499M613.5 496V498M614.5 495V496M615.5 494V495M616.5 493V494M617.5 492V493M618.5 490V492M619.5 489V490M620.5 489V490M621.5 489V490M622.5 489V490M623.5 489V490M624.5 489V490M625.5 488V489M626.5 488V489M627.5 488V489M628.5 488V489M629.5 488V489M630.5 488V489M631.5 487V488M632.5 486V487M633.5 485V486M634.5 484V485M635.5 483V484M636.5 482V483M637.5 481V482M638.5 480V481M639.5 480V481M640.5 479V480M641.5 478V479M642.5 477V478M643.5 476V477M644.5 475V476M645.5 474V475M646.5 473V474M647.5 473V474M648.5 472V473M649.5 471V472M650.5 470V471M651.5 469V470M652.5 468V469M653.5 467V468M654.5 466V467M655.5 466V467M656.5 465V466M657.5 464V465M658.5 463V464M659.5 462V463M660.5 461V462M661.5 460V461M662.5 460V461M663.5 459V460M664.5 458V459M665.5 457V458M666.5 456V457M667.5 455V456M668.5 454V455M669.5 453V454M670.5 452V453M671.5 451V452M672.5 451V452M673.5 450V451M674.5 449V450M675.5 448V449M676.5 445V448M677.5 443V445M678.5 440V443M679.5 438V440M680.5 435V438M681.5 433V435M682.5 430V433M683.5 428V430M684.5 426V428M685.5 424V426M686.5 423V424M687.5 421V423M688.5 420V421M689.5 418V420M690.5 416V418M691.5 415V416M692.5 413V415M693.5 411V413M694.5 410V412M695.5 408V410M696.5 407V408M697.5 405V407M698.5 403V405M699.5 401V403M700.5 399V401M701.5 397V399M702.5 395V397M703.5 393V395M704.5 391V393M705.5 386V391M706.5 382V386M707.5 377V382M708.5 373V377M709.5 368V373M710.5 364V368M711.5 359V364M712.5 355V359M713.5 352V355M714.5 349V352M715.5 345V349M716.5 342V345M717.5 338V342M718.5 335V338M719.5 332V335M720.5 328V332M721.5 325V328M722.5 321V325M723.5 318V321M724.5 314V318M725.5 311V314M726.5 307V311M727.5 303V307M728.5 300V303M729.5 296V300M730.5 293V296M731.5 290V293M732.5 287V290M733.5 285V287M734.5 283V285M735.5 280V283M736.5 278V280M737.5 275V278M738.5 273V275M739.5 271V273M740.5 268V271M741.5 266V268M742.5 264V266M743.5 262V264M744.5 260V262M745.5 258V260M746.5 256V258M747.5 254V256M748.5 252V254M749.5 250V252M750.5 247V250M751.5 247V248M752.5 247V248M753.5 246V247M754.5 246V247M755.5 245V246M756.5 245V246M757.5 245V246M758.5 244V245M759.5 245V246M760.5 245V246M761.5 246V247M762.5 247V248M763.5 248V249M764.5 248V249M765.5 249V250M766.5 250V251M767.5 250V252M768.5 251V252M769.5 251V252M770.5 252V253M771.5 252V253M772.5 253V254M773.5 253V254M774.5 253V254M775.5 254V255M776.5 254V255M777.5 255V256M778.5 255V256M779.5 256V257M780.5 256V257M781.5 256V257M782.5 256V257M783.5 256V257M784.5 256V257M785.5 256V257M786.5 256V257M787.5 256V257M788.5 256V257M789.5 256V257M790.5 256V257M791.5 256V257M792.5 255V256M793.5 255V256M794.5 254V255M795.5 254V255M796.5 253V254M797.5 253V254M798.5 252V253M799.5 252V253M800.5 251V252M801.5 251V252M802.5 250V251M803.5 250V251M804.5 249V250M805.5 249V250M806.5 248V249M807.5 247V248M808.5 246V247M809.5 246V247M810.5 245V246M811.5 244V245M812.5 243V244M813.5 243V244M814.5 242V243M815.5 241V242M816.5 240V241M817.5 240V241M818.5 239V240M819.5 238V239M820.5 238V239M821.5 237V238M822.5 237V238M823.5 236V237M824.5 236V237M825.5 235V236M826.5 235V236M827.5 235V236M828.5 234V235M829.5 234V235M830.5 233V234M831.5 233V234M832.5 232V233M833.5 232V233M834.5 232V233M835.5 231V232M836.5 230V231M837.5 229V230M838.5 228V229M839.5 227V228M840.5 226V227M841.5 226V227M842.5 225V226M843.5 224V225M844.5 223V224M845.5 222V223M846.5 221V222M847.5 220V221M848.5 219V220M849.5 218V219M850.5 216V218M851.5 215V216M852.5 214V215M853.5 212V214M854.5 211V212M855.5 210V211M856.5 208V210M857.5 207V208M858.5 206V207M859.5 204V206M860.5 203V204M861.5 201V203M862.5 200V201M863.5 198V200M864.5 197V198M865.5 195V197M866.5 194V195M867.5 192V194M868.5 190V192M869.5 190V191M870.5 189V190M871.5 188V189M872.5 186V188M873.5 185V186M874.5 184V185M875.5 183V184M876.5 182V183M877.5 181V182M878.5 181V182M879.5 180V181M880.5 180V181M881.5 179V180M882.5 179V180M883.5 178V179M884.5 178V179M885.5 177V178M886.5 177V178M887.5 176V177M888.5 176V177M889.5 176V177M890.5 175V176M891.5 175V176M892.5 174V175M893.5 174V175M894.5 175V176M895.5 175V176M896.5 176V177M897.5 176V177M898.5 177V179M899.5 179V180M900.5 180V182M901.5 182V183M902.5 183V185M903.5 185V186M904.5 186V188M905.5 188V189M906.5 189V191M907.5 191V192M908.5 192V193M909.5 193V194M910.5 194V196M911.5 196V197M912.5 197V198M913.5 198V199M914.5 199V200M915.5 200V201M916.5 201V202M917.5 202V203M918.5 203V204M919.5 204V205M920.5 204V205M921.5 205V206M922.5 206V207M923.5 207V208M924.5 207V208M925.5 208V209M926.5 209V210M927.5 210V211M928.5 210V211M929.5 211V212M930.5 212V213M931.5 212V213M932.5 213V214M933.5 213V214M934.5 214V215M935.5 214V215M936.5 215V216M937.5 215V216M938.5 216V217M939.5 216V217M940.5 217V218M941.5 217V218M942.5 218V219M943.5 218V220M944.5 218V219M945.5 218V219M946.5 217V218M947.5 217V218M948.5 216V217M949.5 216V217M950.5 215V216M951.5 214V215M952.5 214V215M953.5 213V214M954.5 212V213M955.5 212V213M956.5 211V212M957.5 210V211M958.5 209V210M959.5 209V210M960.5 208V209M961.5 207V208M962.5 207V208M963.5 206V207M964.5 205V206M965.5 204V205M966.5 203V204M967.5 203V204M968.5 202V203M969.5 201V202M970.5 200V201M971.5 200V201M972.5 200V201M973.5 199V200M974.5 199V200M975.5 199V200M976.5 199V200M977.5 199V200M978.5 199V200M979.5 199V200M980.5 199V200M981.5 199V200M982.5 199V200M983.5 199V200M984.5 199V200M985.5 199V200M986.5 199V200" fill="none" stroke="#186c20" stroke-width="1" shape-rendering="crispEdges"/><path d="M4.5 91V92M5.5 91V92M6.5 92V93M7.5 92V93M8.5 93V94M9.5 93V94M10.5 94V95M11.5 94V95M12.5 95V96M13.5 95V96M14.5 96V97M15.5 97V98M16.5 98V99M17.5 99V100M18.5 100V101M19.5 100V101M20.5 100V101M21.5 101V102M22.5 101V102M23.5 101V102M24.5 101V102M25.5 101V103M26.5 100V101M27.5 99V100M28.5 98V99M29.5 97V98M30.5 95V97M31.5 94V95M32.5 93V94M33.5 92V93M34.5 91V92M35.5 90V91M36.5 89V90M37.5 88V89M38.5 88V89M39.5 88V89M40.5 88V89M41.5 88V89M42.5 88V89M43.5 87V88M44.5 87V88M45.5 87V88M46.5 87V88M47.5 88V89M48.5 88V89M49.5 89V90M50.5 90V91M51.5 91V92M52.5 91V92M53.5 92V93M54.5 93V94M55.5 93V94M56.5 94V95M57.5 95V96M58.5 95V96M59.5 96V97M60.5 97V98M61.5 98V99M62.5 98V99M63.5 98V99M64.5 98V99M65.5 98V99M66.5 98V99M67.5 98V99M68.5 98V99M69.5 98V99M70.5 98V99M71.5 98V99M72.5 98V99M73.5 98V99M74.5 98V99M75.5 98V99M76.5 99V100M77.5 99V100M78.5 100V101M79.5 100V101M80.5 100V101M81.5 101V102M82.5 101V102M83.5 102V103M84.5 102V103M85.5 103V104M86.5 102V103M87.5 102V103M88.5 102V103M89.5 102V103M90.5 102V103M91.5 102V103M92.5 102V103M93.5 102V103M94.5 102V103M95.5 102V103M96.5 101V102M97.5 100V101M98.5 99V100M99.5 98V99M100.5 98V99M101.5 97V98M102.5 96V97M103.5 95V96M104.5 94V95M105.5 94V95M106.5 93V94M107.5 92V93M108.5 92V93M109.5 91V92M110.5 91V92M111.5 90V91M112.5 90V91M113.5 90V91M114.5 89V90M115.5 89V90M116.5 88V89M117.5 88V89M118.5 88V89M119.5 87V88M120.5 85V87M121.5 84V85M122.5 83V84M123.5 81V83M124.5 80V81M125.5 79V80M126.5 78V79M127.5 78V79M128.5 79V80M129.5 79V80M130.5 80V82M131.5 82V83M132.5 83V85M133.5 85V86M134.5 86V88M135.5 88V89M136.5 89V90M137.5 90V91M138.5 91V92M139.5 92V93M140.5 93V94M141.5 94V95M142.5 95V96M143.5 96V97M144.5 97V98M145.5 98V99M146.5 99V100M147.5 100V101M148.5 101V102M149.5 102V103M150.5 103V104M151.5 104V105M152.5 104V105M153.5 104V105M154.5 104V105M155.5 104V105M156.5 105V106M157.5 105V108M158.5 108V111M159.5 111V114M160.5 114V117M161.5 117V120M162.5 120V123M163.5 123V126M164.5 126V129M165.5 129V132M166.5 132V135M167.5 135V138M168.5 138V141M169.5 141V143M170.5 143V144M171.5 144V146M172.5 146V148M173.5 148V150M174.5 150V151M175.5 151V153M176.5 153V154M177.5 154V156M178.5 156V157M179.5 157V159M180.5 159V160M181.5 160V162M182.5 162V163M183.5 163V165M184.5 165V166M185.5 166V167M186.5 167V169M187.5 169V170M188.5 170V171M189.5 171V173M190.5 173V174M191.5 174V175M192.5 175V177M193.5 177V178M194.5 178V179M195.5 178V181M196.5 181V182M197.5 182V184M198.5 184V185M199.5 185V186M200.5 186V187M201.5 186V187M202.5 187V188M203.5 188V189M204.5 189V190M205.5 189V190M206.5 190V191M207.5 191V192M208.5 192V193M209.5 192V193M210.5 192V193M211.5 192V193M212.5 192V193M213.5 192V193M214.5 193V194M215.5 193V194M216.5 193V194M217.5 193V194M218.5 193V194M219.5 193V194M220.5 193V194M221.5 194V195M222.5 194V195M223.5 194V195M224.5 194V195M225.5 194V195M226.5 194V195M227.5 194V195M228.5 194V195M229.5 194V195M230.5 194V195M231.5 195V196M232.5 195V196M233.5 196V197M234.5 197V198M235.5 198V199M236.5 199V200M237.5 200V201M238.5 201V202M239.5 202V203M240.5 203V204M241.5 204V205M242.5 205V206M243.5 206V207M244.5 207V209M245.5 209V211M246.5 211V213M247.5 213V215M248.5 215V217M249.5 217V219M250.5 218V222M251.5 222V224M252.5 224V226M253.5 226V228M254.5 228V231M255.5 231V233M256.5 232V239M257.5 239V244M258.5 244V250M259.5 250V255M260.5 255V261M261.5 261V266M262.5 266V270M263.5 270V275M264.5 275V279M265.5 279V284M266.5 284V288M267.5 288V292M268.5 292V296M269.5 296V299M270.5 299V303M271.5 303V306M272.5 306V309M273.5 309V313M274.5 313V316M275.5 316V320M276.5 320V323M277.5 323V326M278.5 326V330M279.5 330V333M280.5 333V337M281.5 337V341M282.5 341V344M283.5 344V348M284.5 348V351M285.5 351V355M286.5 355V359M287.5 359V362M288.5 362V366M289.5 365V371M290.5 371V376M291.5 376V381M292.5 381V386M293.5 386V391M294.5 391V396M295.5 396V401M296.5 401V404M297.5 404V408M298.5 408V412M299.5 412V415M300.5 415V419M301.5 419V422M302.5 422V426M303.5 426V429M304.5 429V432M305.5 432V434M306.5 434V437M307.5 437V440M308.5 440V443M309.5 443V445M310.5 445V448M311.5 448V450M312.5 450V451M313.5 451V453M314.5 453V455M315.5 455V457M316.5 457V458M317.5 458V460M318.5 460V461M319.5 459V460M320.5 459V460M321.5 458V459M322.5 458V459M323.5 457V458M324.5 457V458M325.5 456V457M326.5 456V457M327.5 455V456M328.5 455V456M329.5 454V455M330.5 454V455M331.5 453V454M332.5 453V454M333.5 454V455M334.5 455V456M335.5 456V458M336.5 458V460M337.5 460V461M338.5 461V462M339.5 462V464M340.5 464V465M341.5 465V466M342.5 466V468M343.5 468V469M344.5 469V470M345.5 469V470M346.5 470V471M347.5 471V472M348.5 472V473M349.5 473V474M350.5 474V475M351.5 475V476M352.5 476V477M353.5 476V477M354.5 477V478M355.5 477V478M356.5 476V477M357.5 475V476M358.5 474V475M359.5 473V474M360.5 473V474M361.5 472V473M362.5 472V473M363.5 472V473M364.5 472V473M365.5 472V473M366.5 472V473M367.5 472V473M368.5 472V473M369.5 472V473M370.5 472V473M371.5 472V473M372.5 472V474M373.5 472V473M374.5 472V473M375.5 471V472M376.5 470V471M377.5 470V471M378.5 469V470M379.5 469V470M380.5 468V469M381.5 468V469M382.5 469V470M383.5 469V470M384.5 469V470M385.5 470V471M386.5 471V473M387.5 473V474M388.5 474V476M389.5 476V477M390.5 477V479M391.5 479V480M392.5 480V481M393.5 481V483M394.5 483V484M395.5 484V486M396.5 486V487M397.5 487V489M398.5 489V490M399.5 490V492M400.5 491V492M401.5 491V492M402.5 491V492M403.5 492V493M404.5 492V493M405.5 493V494M406.5 493V494M407.5 494V495M408.5 494V495M409.5 495V496M410.5 495V496M411.5 496V497M412.5 496V497M413.5 497V498M414.5 497V498M415.5 498V499M416.5 498V499M417.5 499V501M418.5 501V502M419.5 502V504M420.5 504V505M421.5 505V507M422.5 507V509M423.5 509V510M424.5 510V512M425.5 512V513M426.5 513V515M427.5 514V518M428.5 518V521M429.5 521V524M430.5 524V527M431.5 527V530M432.5 530V534M433.5 534V538M434.5 538V541M435.5 540V543M436.5 543V546M437.5 546V548M438.5 548V550M439.5 550V553M440.5 553V555M441.5 555V557M442.5 557V559M443.5 558V559M444.5 558V559M445.5 558V559M446.5 559V560M447.5 559V560M448.5 559V560M449.5 559V560M450.5 559V560M451.5 559V560M452.5 560V561M453.5 560V561M454.5 560V561M455.5 560V561M456.5 560V561M457.5 560V561M458.5 561V562M459.5 561V562M460.5 561V562M461.5 561V562M462.5 561V562M463.5 561V563M464.5 561V562M465.5 561V562M466.5 560V561M467.5 560V561M468.5 560V561M469.5 559V560M470.5 559V560M471.5 558V559M472.5 558V559M473.5 558V559M474.5 557V558M475.5 557V558M476.5 558V559M477.5 559V560M478.5 559V560M479.5 560V561M480.5 561V563M481.5 563V564M482.5 564V566M483.5 566V567M484.5 567V568M485.5 568V570M486.5 570V571M487.5 571V572M488.5 572V574M489.5 574V575M490.5 575V576M491.5 576V577M492.5 576V577M493.5 577V578M494.5 578V579M495.5 579V580M496.5 580V581M497.5 581V582M498.5 582V583M499.5 582V583M500.5 582V583M501.5 582V583M502.5 582V583M503.5 582V583M504.5 582V583M505.5 582V583M506.5 582V583M507.5 582V583M508.5 581V582M509.5 581V582M510.5 580V581M511.5 580V581M512.5 579V580M513.5 579V580M514.5 578V579M515.5 578V579M516.5 577V578M517.5 576V577M518.5 576V577M519.5 575V576M520.5 574V575M521.5 573V574M522.5 572V573M523.5 572V573M524.5 571V572M525.5 570V571M526.5 569V570M527.5 568V569M528.5 567V568M529.5 567V568M530.5 566V567M531.5 565V566M532.5 564V565M533.5 563V564M534.5 562V563M535.5 562V563M536.5 561V562M537.5 560V561M538.5 559V560M539.5 558V559M540.5 557V558M541.5 556V557M542.5 554V556M543.5 553V554M544.5 552V553M545.5 551V552M546.5 550V551M547.5 549V550M548.5 547V549M549.5 546V547M550.5 544V546M551.5 543V544M552.5 541V543M553.5 539V541M554.5 538V539M555.5 536V538M556.5 535V536M557.5 533V535M558.5 532V533M559.5 530V532M560.5 529V530M561.5 528V529M562.5 526V528M563.5 525V526M564.5 523V525M565.5 522V523M566.5 520V522M567.5 519V520M568.5 517V519M569.5 515V517M570.5 514V515M571.5 512V514M572.5 511V512M573.5 511V512M574.5 511V512M575.5 510V511M576.5 510V511M577.5 510V511M578.5 510V511M579.5 510V511M580.5 509V510M581.5 509V510M582.5 509V510M583.5 508V509M584.5 507V508M585.5 506V507M586.5 505V506M587.5 505V506M588.5 504V505M589.5 503V504M590.5 502V503M591.5 501V502M592.5 500V501M593.5 499V500M594.5 498V499M595.5 497V498M596.5 496V497M597.5 495V496M598.5 494V495M599.5 493V494M600.5 492V493M601.5 491V492M602.5 490V492M603.5 488V490M604.5 487V488M605.5 485V487M606.5 484V485M607.5 482V484M608.5 481V482M609.5 479V481M610.5 478V479M611.5 476V478M612.5 475V476M613.5 474V475M614.5 473V474M615.5 472V473M616.5 472V473M617.5 471V472M618.5 470V471M619.5 469V470M620.5 469V470M621.5 469V470M622.5 469V470M623.5 469V470M624.5 469V470M625.5 469V470M626.5 470V471M627.5 470V471M628.5 470V471M629.5 470V471M630.5 470V471M631.5 470V471M632.5 470V471M633.5 470V471M634.5 470V471M635.5 469V470M636.5 468V469M637.5 467V468M638.5 465V467M639.5 464V465M640.5 463V464M641.5 462V463M642.5 461V462M643.5 459V461M644.5 458V459M645.5 457V458M646.5 456V457M647.5 455V456M648.5 454V455M649.5 453V454M650.5 452V453M651.5 451V452M652.5 450V451M653.5 450V451M654.5 449V450M655.5 448V449M656.5 447V448M657.5 446V447M658.5 445V446M659.5 444V445M660.5 443V445M661.5 442V443M662.5 440V442M663.5 439V440M664.5 437V439M665.5 436V437M666.5 434V436M667.5 433V434M668.5 431V433M669.5 430V431M670.5 429V430M671.5 429V430M672.5 428V429M673.5 428V429M674.5 427V428M675.5 426V428M676.5 423V426M677.5 419V423M678.5 416V419M679.5 412V416M680.5 409V412M681.5 406V409M682.5 403V406M683.5 401V403M684.5 398V401M685.5 395V398M686.5 393V395M687.5 390V393M688.5 388V390M689.5 385V388M690.5 383V385M691.5 382V383M692.5 381V382M693.5 379V381M694.5 378V379M695.5 376V378M696.5 374V376M697.5 371V374M698.5 369V371M699.5 367V369M700.5 364V367M701.5 360V364M702.5 355V360M703.5 349V355M704.5 344V349M705.5 337V344M706.5 330V337M707.5 323V330M708.5 316V323M709.5 312V317M710.5 307V312M711.5 301V307M712.5 296V301M713.5 292V296M714.5 288V292M715.5 283V288M716.5 279V283M717.5 275V279M718.5 271V275M719.5 267V271M720.5 262V267M721.5 257V262M722.5 252V257M723.5 247V252M724.5 242V247M725.5 237V242M726.5 233V237M727.5 230V233M728.5 227V230M729.5 224V227M730.5 221V224M731.5 218V221M732.5 215V218M733.5 212V215M734.5 211V212M735.5 210V211M736.5 209V210M737.5 209V210M738.5 208V209M739.5 206V208M740.5 203V206M741.5 201V203M742.5 198V201M743.5 196V198M744.5 193V196M745.5 192V193M746.5 191V192M747.5 190V191M748.5 190V191M749.5 188V190M750.5 188V189M751.5 189V190M752.5 190V191M753.5 190V191M754.5 191V193M755.5 193V195M756.5 195V197M757.5 197V199M758.5 198V201M759.5 201V204M760.5 204V207M761.5 207V210M762.5 210V213M763.5 213V216M764.5 216V218M765.5 218V221M766.5 221V224M767.5 224V226M768.5 226V228M769.5 228V230M770.5 230V231M771.5 231V233M772.5 233V235M773.5 235V237M774.5 237V238M775.5 238V240M776.5 240V241M777.5 241V242M778.5 242V243M779.5 243V244M780.5 244V245M781.5 245V246M782.5 246V247M783.5 247V248M784.5 248V249M785.5 248V249M786.5 248V249M787.5 249V250M788.5 249V250M789.5 248V249M790.5 248V249M791.5 247V248M792.5 247V248M793.5 246V247M794.5 245V246M795.5 244V246M796.5 244V245M797.5 244V245M798.5 244V245M799.5 243V244M800.5 243V244M801.5 243V244M802.5 242V243M803.5 242V243M804.5 242V243M805.5 241V242M806.5 240V241M807.5 238V240M808.5 237V238M809.5 236V237M810.5 234V236M811.5 233V234M812.5 231V233M813.5 231V232M814.5 229V231M815.5 228V229M816.5 227V228M817.5 226V227M818.5 225V226M819.5 224V225M820.5 224V225M821.5 225V226M822.5 225V226M823.5 225V226M824.5 225V226M825.5 225V226M826.5 226V227M827.5 226V227M828.5 226V227M829.5 225V226M830.5 225V226M831.5 224V225M832.5 224V225M833.5 223V224M834.5 223V224M835.5 222V223M836.5 220V222M837.5 218V220M838.5 217V218M839.5 215V217M840.5 214V215M841.5 212V214M842.5 210V212M843.5 208V210M844.5 206V208M845.5 204V206M846.5 202V204M847.5 200V202M848.5 197V200M849.5 195V197M850.5 193V195M851.5 191V193M852.5 190V191M853.5 188V190M854.5 187V188M855.5 185V187M856.5 184V185M857.5 182V184M858.5 181V182M859.5 179V181M860.5 178V179M861.5 176V178M862.5 174V176M863.5 173V174M864.5 171V173M865.5 170V171M866.5 168V170M867.5 166V168M868.5 164V166M869.5 164V165M870.5 163V164M871.5 162V163M872.5 161V162M873.5 160V161M874.5 159V160M875.5 158V159M876.5 156V158M877.5 156V157M878.5 156V157M879.5 156V157M880.5 156V157M881.5 156V157M882.5 156V157M883.5 156V157M884.5 156V157M885.5 156V157M886.5 155V156M887.5 155V156M888.5 155V156M889.5 154V155M890.5 154V155M891.5 153V155M892.5 155V156M893.5 156V158M894.5 158V159M895.5 158V162M896.5 162V164M897.5 164V166M898.5 166V168M899.5 168V171M900.5 171V173M901.5 173V176M902.5 176V179M903.5 179V183M904.5 183V186M905.5 186V189M906.5 189V191M907.5 191V193M908.5 193V195M909.5 195V197M910.5 197V199M911.5 199V201M912.5 201V203M913.5 203V205M914.5 205V207M915.5 207V209M916.5 209V211M917.5 211V213M918.5 213V215M919.5 215V217M920.5 217V219M921.5 219V220M922.5 219V220M923.5 220V221M924.5 221V222M925.5 222V223M926.5 223V224M927.5 223V224M928.5 224V225M929.5 225V226M930.5 226V227M931.5 227V228M932.5 227V228M933.5 227V228M934.5 228V229M935.5 228V229M936.5 229V230M937.5 229V230M938.5 229V230M939.5 230V231M940.5 230V231M941.5 231V232M942.5 231V232M943.5 231V232M944.5 230V231M945.5 230V231M946.5 228V230M947.5 225V228M948.5 223V225M949.5 221V223M950.5 219V221M951.5 217V219M952.5 216V217M953.5 215V216M954.5 213V215M955.5 212V213M956.5 211V212M957.5 210V211M958.5 208V210M959.5 207V208M960.5 206V207M961.5 205V206M962.5 203V205M963.5 202V203M964.5 201V202M965.5 200V201M966.5 198V200M967.5 198V199M968.5 197V198M969.5 197V198M970.5 196V197M971.5 195V196M972.5 195V196M973.5 194V195M974.5 194V195M975.5 193V194M976.5 193V194M977.5 193V194M978.5 193V194M979.5 193V194M980.5 193V194M981.5 193V194M982.5 193V194M983.5 194V195M984.5 195V196M985.5 196V197M986.5 196V197" fill="none" stroke="#c62236" stroke-width="1" shape-rendering="crispEdges"/><line x1="100.0" y1="674.67" x2="1095.0" y2="549.5" stroke="#e20d17" stroke-width="2.8" stroke-linecap="round" clip-path="url(#cc)"/><path d="M3.5 2V669M3 2.5H1238M1237.5 2V669M3 668.5H1238" stroke="#000" stroke-width="1" fill="none" shape-rendering="crispEdges"/><path d="M1238 5.5H1240M1238 38.5H1240M1238 71.5H1240M1238 104.5H1240M1238 137.5H1240M1238 170.5H1240M1238 203.5H1240M1238 236.5H1240M1238 269.5H1240M1238 302.5H1240M1238 335.5H1240M1238 368.5H1240M1238 401.5H1240M1238 434.5H1240M1238 467.5H1240M1238 500.5H1240M1238 533.5H1240M1238 566.5H1240M1238 599.5H1240M1238 632.5H1240M1238 665.5H1240" stroke="#000" stroke-width="1" fill="none" shape-rendering="crispEdges"/><path d="M4.5 669V672M68.5 669V672M132.5 669V672M196.5 669V672M260.5 669V672M324.5 669V672M388.5 669V672M452.5 669V672M516.5 669V672M580.5 669V672M644.5 669V672M708.5 669V672M772.5 669V672M836.5 669V672M900.5 669V672M964.5 669V672" stroke="#000" stroke-width="1" fill="none" shape-rendering="crispEdges"/><path d="M7 9H14.4L10.7 13.2Z" fill="#000"/></svg>
<div style="position:absolute;left:0;top:0;width:1px;height:689px;background:#7c7c7c"></div>
<div class="ttl" style="left:18.5px">XAUUSD,H1</div>
<div class="ttl" style="left:79px;letter-spacing:-0.24px">1255.34 1256.11 1259.27 1256.08</div>
<div class="ax" style="top:1px">1273.75</div>
<div class="ax" style="top:34px">1270.70</div>
<div class="ax" style="top:67px">1267.65</div>
<div class="ax" style="top:100px">1264.60</div>
<div class="ax" style="top:133px">1261.55</div>
<div class="ax" style="top:166px">1258.55</div>
<div class="ax" style="top:199px">1255.50</div>
<div class="ax" style="top:232px">1252.45</div>
<div class="ax" style="top:265px">1249.40</div>
<div class="ax" style="top:298px">1246.35</div>
<div class="ax" style="top:331px">1243.30</div>
<div class="ax" style="top:364px">1240.30</div>
<div class="ax" style="top:397px">1237.25</div>
<div class="ax" style="top:430px">1234.20</div>
<div class="ax" style="top:463px">1231.15</div>
<div class="ax" style="top:496px">1228.10</div>
<div class="ax" style="top:529px">1225.05</div>
<div class="ax" style="top:562px">1222.00</div>
<div class="ax" style="top:595px">1219.00</div>
<div class="ax" style="top:628px">1215.95</div>
<div class="ax" style="top:661px">1212.90</div>
<div class="dt" style="left:3px">26 Apr 2017</div>
<div class="dt" style="left:67px">27 Apr 19:00</div>
<div class="dt" style="left:131px">1 May 05:00</div>
<div class="dt" style="left:195px">2 May 14:00</div>
<div class="dt" style="left:259px">3 May 23:00</div>
<div class="dt" style="left:323px">5 May 09:00</div>
<div class="dt" style="left:387px">8 May 18:00</div>
<div class="dt" style="left:451px">10 May 04:00</div>
<div class="dt" style="left:515px">11 May 13:00</div>
<div class="dt" style="left:579px">12 May 22:00</div>
<div class="dt" style="left:643px">16 May 08:00</div>
<div class="dt" style="left:707px">17 May 17:00</div>
<div class="dt" style="left:771px">19 May 03:00</div>
<div class="dt" style="left:835px">22 May 12:00</div>
<div class="dt" style="left:899px">23 May 21:00</div>
<div class="dt" style="left:963px">25 May 07:00</div>
<div class="pl" style="top:192px;background:#000"><span>1256.08</span></div>
<div class="pl" style="top:257px;background:#f20000"><span>1250.00</span></div>
<div class="pl" style="top:420px;background:#f20000"><span>1235.00</span></div>
<div class="pl" style="top:528px;background:#f20000"><span>1225.00</span></div>
<div style="position:absolute;left:0;top:689px;width:1280px;height:1px;background:#d9d9d9"></div>
<div style="position:absolute;left:0;top:690px;width:1280px;height:1px;background:#f4f4f4"></div>
<div style="position:absolute;left:0;top:692px;width:1280px;height:19px;background:#eeeeee"></div>
<div style="position:absolute;left:0;top:711px;width:1280px;height:9px;background:#f1f1f1"></div>
<div style="position:absolute;left:0;top:691px;width:1280px;height:1px;background:#1a1a1a"></div>
<div style="position:absolute;left:0;top:691px;width:1px;height:19px;background:#333"></div>
<div class="tab" style="left:16.4px;letter-spacing:-0.475px">GBPUSD,H1</div>
<div class="tab" style="left:100.5px;letter-spacing:-0.531px">GBPJPY,H1</div>
<div class="tab" style="left:179.5px;letter-spacing:-0.344px">USDJPY,H1</div>
<div class="tab" style="left:261.25px;letter-spacing:-0.188px">AUDUSD,H1</div>
<div class="tab" style="left:348.5px;letter-spacing:0.0px">NZDUSD,H1</div>
<div class="tab" style="left:435.25px;letter-spacing:0.15px">USOil,Daily</div>
<div class="tab" style="left:515.75px;letter-spacing:-0.167px">NGAS,H1</div>
<div class="tab" style="left:588.25px;letter-spacing:-0.312px">SPX500,H1</div>
<div class="tab" style="left:666.5px;letter-spacing:-0.062px">NAS100,H1</div>
<div class="tab" style="left:748.5px;letter-spacing:-0.25px">US30,H1</div>
<div class="tab" style="left:899.25px;letter-spacing:-0.45px">XAGUSD,H1</div>
<div class="tab" style="left:983.75px;letter-spacing:-0.571px">GER30,H1</div>
<div class="tab" style="left:1054.75px;letter-spacing:-0.107px">UK100,H1</div>
<div class="tab" style="left:1127.0px;letter-spacing:-0.114px">JPN225,Daily</div>
<div class="tab" style="left:1214.5px;letter-spacing:0.062px">USOil</div>
<div class="sep" style="left:89px"></div>
<div class="sep" style="left:169px"></div>
<div class="sep" style="left:249px"></div>
<div class="sep" style="left:337px"></div>
<div class="sep" style="left:425px"></div>
<div class="sep" style="left:505px"></div>
<div class="sep" style="left:577px"></div>
<div class="sep" style="left:657px"></div>
<div class="sep" style="left:737px"></div>
<div class="sep" style="left:973px"></div>
<div class="sep" style="left:1045px"></div>
<div class="sep" style="left:1117px"></div>
<div class="sep" style="left:1205px"></div>
<div style="position:absolute;left:805px;top:691px;width:84px;height:19px;background:#fff;border:1px solid #1a1a1a;border-top:none;box-sizing:border-box;border-radius:0 0 1.5px 1.5px"></div>
<div class="tab" style="left:815px;color:#222;letter-spacing:-0.28px">XAUUSD,H1</div>
<div style="position:absolute;left:576px;top:718px;width:33px;height:2px;background:repeating-linear-gradient(90deg,#444 0 2px,#f1f1f1 2px 5px)"></div>
<div style="position:absolute;left:1167px;top:718px;width:45px;height:2px;background:repeating-linear-gradient(90deg,#444 0 3px,#f1f1f1 3px 5px)"></div>
<svg width="40" height="14" style="position:absolute;left:1240px;top:694px"><path d="M13 3.5V8.5L9.5 6Z M28.8 3.5V8.5L32.3 6Z" fill="#000"/></svg>
<div style="position:absolute;left:1px;top:719px;width:8px;height:1px;background:#333"></div>
<div style="position:absolute;left:39px;top:719px;width:5px;height:1px;background:#333"></div>
<div style="position:absolute;left:569px;top:713px;width:1px;height:7px;background:#a8a8a8"></div>
<div style="position:absolute;left:685px;top:713px;width:1px;height:7px;background:#a8a8a8"></div>
<div style="position:absolute;left:787px;top:713px;width:1px;height:7px;background:#a8a8a8"></div>
<div style="position:absolute;left:858px;top:713px;width:1px;height:7px;background:#a8a8a8"></div>
<div style="position:absolute;left:929px;top:713px;width:1px;height:7px;background:#a8a8a8"></div>
<div style="position:absolute;left:997px;top:713px;width:1px;height:7px;background:#a8a8a8"></div>
<div style="position:absolute;left:1068px;top:713px;width:1px;height:7px;background:#a8a8a8"></div>
<div style="position:absolute;left:1134px;top:713px;width:1px;height:7px;background:#a8a8a8"></div>
<div style="position:absolute;left:1139px;top:717px;width:23px;height:3px;background:repeating-linear-gradient(90deg,#7a8a1a 0 2px,#f1f1f1 2px 3px)"></div>
</body></html>
